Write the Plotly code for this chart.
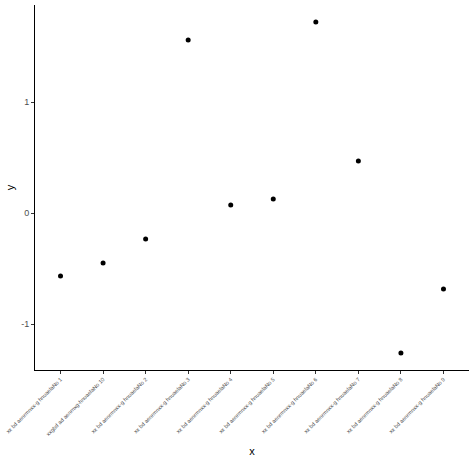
import plotly.graph_objects as go

categories = ["xx bd aenrmnxx-g hnuaelaNo 1", "xxgbd ad aenrnxg-hnuaelaNo 10",
              "xx bd aenrmnxx-g hnuaelaNo 2", "xx bd aenrmnxx-g hnuaelaNo 3",
              "xx bd aenrmnxx-g hnuaelaNo 4", "xx bd aenrmnxx-g hnuaelaNo 5",
              "xx bd aenrmnxx-g hnuaelaNo 6", "xx bd aenrmnxx-g hnuaelaNo 7",
              "xx bd aenrmnxx-g hnuaelaNo 8", "xx bd aenrmnxx-g hnuaelaNo 9"]
values = [-0.568, -0.45, -0.234, 1.559, 0.072, 0.126, 1.72, 0.468, -1.261, -0.685]
y_ticks = [-1, 0, 1]

fig = go.Figure(go.Scatter(
    x=categories, y=values, mode="markers",
    marker=dict(color="black", size=5),
))

fig.update_layout(
    width=474, height=457,
    margin=dict(l=35, r=5, t=5, b=87),
    plot_bgcolor="white", paper_bgcolor="white",
    showlegend=False,
    font=dict(family="Liberation Sans, Arial, sans-serif", color="black"),
)
fig.update_xaxes(
    type="category", categoryorder="array", categoryarray=categories,
    range=[-0.6, 9.6], automargin=False,
    showline=True, linecolor="black", linewidth=1,
    ticks="outside", ticklen=3, tickcolor="#333333",
    tickangle=-45, tickfont=dict(size=5.5, color="#4d4d4d"),
    showgrid=False, zeroline=False,
    title=dict(text="x", font=dict(size=11), standoff=11),
)
fig.update_yaxes(
    range=[-1.414, 1.874], automargin=False,
    tickvals=y_ticks, ticktext=[str(v) for v in y_ticks],
    showline=True, linecolor="black", linewidth=1,
    ticks="outside", ticklen=3, tickcolor="#333333",
    tickfont=dict(size=9, color="#4d4d4d"),
    showgrid=False, zeroline=False,
    title=dict(text="y", font=dict(size=11), standoff=4),
)

fig.write_html("out.html", config={"displayModeBar": False},
               post_script="document.body.style.margin='0';")
